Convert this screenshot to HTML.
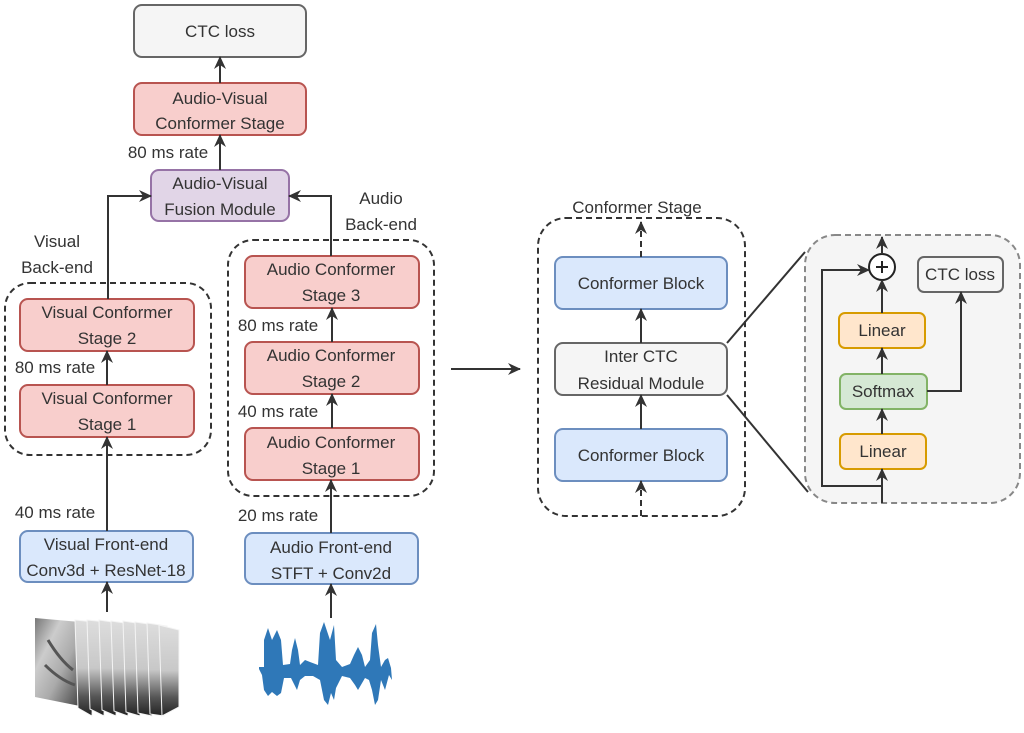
<!DOCTYPE html>
<html><head><meta charset="utf-8"><style>
html,body{margin:0;padding:0;background:#fff;}
svg{display:block;}
text{font-family:"Liberation Sans",Arial,sans-serif;font-size:17px;fill:#333;}
</style></head><body>
<svg width="1024" height="733" viewBox="0 0 1024 733" xmlns="http://www.w3.org/2000/svg">
<defs>
<marker id="a" markerWidth="14" markerHeight="14" refX="12" refY="6" orient="auto" markerUnits="userSpaceOnUse">
<path d="M0,0 L13,6 L0,12 L4,6 z" fill="#333"/>
</marker>
<linearGradient id="face" x1="0" y1="0" x2="1" y2="1">
<stop offset="0" stop-color="#777"/><stop offset="0.3" stop-color="#ccc"/><stop offset="0.6" stop-color="#aaa"/><stop offset="1" stop-color="#444"/>
</linearGradient>
<linearGradient id="fr" x1="0" y1="0" x2="0" y2="1">
<stop offset="0" stop-color="#ddd"/><stop offset="0.5" stop-color="#c8c8c8"/><stop offset="0.8" stop-color="#555"/><stop offset="1" stop-color="#222"/>
</linearGradient>
</defs>
<g stroke="#333" stroke-width="2" fill="none">
<rect x="5" y="283" width="206" height="172" rx="25" stroke-dasharray="6,4"/>
<rect x="228" y="240" width="206" height="256" rx="25" stroke-dasharray="6,4"/>
<rect x="538" y="218" width="207" height="298" rx="28" stroke-dasharray="6,4"/>
<rect x="805" y="235" width="215" height="268" rx="30" stroke="#888" fill="#f5f5f5" stroke-dasharray="6,4"/>
</g>
<g stroke-width="2">
<rect x="134" y="5" width="172" height="52" rx="8" fill="#f5f5f5" stroke="#666"/>
<rect x="134" y="83" width="172" height="52" rx="8" fill="#f8cecc" stroke="#b85450"/>
<rect x="151" y="170" width="138" height="51" rx="8" fill="#e1d5e7" stroke="#9673a6"/>
<rect x="20" y="299" width="174" height="52" rx="8" fill="#f8cecc" stroke="#b85450"/>
<rect x="20" y="385" width="174" height="52" rx="8" fill="#f8cecc" stroke="#b85450"/>
<rect x="20" y="531" width="173" height="51" rx="8" fill="#dae8fc" stroke="#6c8ebf"/>
<rect x="245" y="256" width="174" height="52" rx="8" fill="#f8cecc" stroke="#b85450"/>
<rect x="245" y="342" width="174" height="52" rx="8" fill="#f8cecc" stroke="#b85450"/>
<rect x="245" y="428" width="174" height="52" rx="8" fill="#f8cecc" stroke="#b85450"/>
<rect x="245" y="533" width="173" height="51" rx="8" fill="#dae8fc" stroke="#6c8ebf"/>
<rect x="555" y="257" width="172" height="52" rx="8" fill="#dae8fc" stroke="#6c8ebf"/>
<rect x="555" y="343" width="172" height="52" rx="8" fill="#f5f5f5" stroke="#666"/>
<rect x="555" y="429" width="172" height="52" rx="8" fill="#dae8fc" stroke="#6c8ebf"/>
<rect x="918" y="257" width="85" height="35" rx="6" fill="#f5f5f5" stroke="#666"/>
<rect x="839" y="313" width="86" height="35" rx="6" fill="#ffe6cc" stroke="#d79b00"/>
<rect x="840" y="374" width="87" height="35" rx="6" fill="#d5e8d4" stroke="#82b366"/>
<rect x="840" y="434" width="86" height="35" rx="6" fill="#ffe6cc" stroke="#d79b00"/>
<circle cx="882" cy="267" r="13" fill="#fff" stroke="#222"/>
</g>
<g stroke="#333" stroke-width="2" fill="none" marker-end="url(#a)">
<line x1="220" y1="83" x2="220" y2="57"/>
<line x1="220" y1="170" x2="220" y2="135"/>
<polyline points="108,299 108,196 151,196"/>
<polyline points="331,256 331,196 289,196"/>
<line x1="107" y1="385" x2="107" y2="351"/>
<line x1="107" y1="531" x2="107" y2="437"/>
<line x1="107" y1="612" x2="107" y2="582"/>
<line x1="332" y1="342" x2="332" y2="308"/>
<line x1="332" y1="428" x2="332" y2="394"/>
<line x1="331" y1="533" x2="331" y2="480"/>
<line x1="331" y1="618" x2="331" y2="584"/>
<line x1="451" y1="369" x2="520" y2="369"/>
<line x1="641" y1="343" x2="641" y2="309"/>
<line x1="641" y1="429" x2="641" y2="395"/>
<line x1="641" y1="257" x2="641" y2="222" stroke-dasharray="6,4"/>
<line x1="641" y1="516" x2="641" y2="481" stroke-dasharray="6,4"/>
<line x1="882" y1="503" x2="882" y2="469"/>
<line x1="882" y1="434" x2="882" y2="409"/>
<line x1="882" y1="374" x2="882" y2="348"/>
<line x1="882" y1="313" x2="882" y2="280"/>
<line x1="882" y1="254" x2="882" y2="237"/>
<polyline points="882,486 822,486 822,270 869,270"/>
<polyline points="927,391 961,391 961,292"/>
</g>
<g stroke="#333" stroke-width="2">
<line x1="727" y1="343" x2="805" y2="252"/>
<line x1="727" y1="395" x2="808" y2="492"/>
<line x1="876" y1="267" x2="888" y2="267" stroke="#222"/>
<line x1="882" y1="261" x2="882" y2="273" stroke="#222"/>
</g>
<!-- face stack -->
<g>
<polygon points="35,618 80,622 80,706 35,697" fill="url(#face)"/>
<path d="M48,640 q12,20 25,30 M45,665 q15,15 30,20" stroke="#555" stroke-width="3" fill="none"/>
<g fill="url(#fr)" stroke="#f4f4f4" stroke-width="1">
<polygon points="75,620 95,622 92,716 78,708"/>
<polygon points="87,620 107,622 104,716 90,709"/>
<polygon points="99,620 119,623 116,716 102,710"/>
<polygon points="111,621 131,624 128,716 114,711"/>
<polygon points="123,621 143,624 140,716 126,712"/>
<polygon points="135,622 155,625 152,716 138,713"/>
<polygon points="147,623 167,626 164,716 150,714"/>
<polygon points="159,625 179,630 179,707 162,716"/>
</g>
</g>
<!-- waveform -->
<path fill="#2f78b8" d="M259,667 L264,667 L264,640 L268,628 L272,640 L277,630 L281,640 L283,665 L290,664 L292,650 L295,638 L298,650 L300,665 L305,660 L310,662 L318,665 L320,633 L324,622 L330,640 L334,625 L336,660 L342,667 L350,664 L354,655 L358,647 L362,655 L365,667 L370,660 L372,633 L376,624 L378,645 L381,667 L385,660 L388,658 L391,668 L392,680 L389,675 L385,690 L381,680 L378,700 L375,705 L372,690 L369,680 L365,678 L358,690 L355,685 L350,678 L342,676 L336,688 L334,700 L331,693 L328,705 L324,700 L320,680 L313,676 L305,676 L300,680 L297,690 L294,684 L291,678 L284,678 L281,693 L277,696 L272,692 L268,696 L264,690 L262,675 L259,669 Z"/>
<g text-anchor="middle">
<text x="220" y="37">CTC loss</text>
<text x="220" y="104">Audio-Visual</text>
<text x="220" y="129">Conformer Stage</text>
<text x="168" y="158">80 ms rate</text>
<text x="220" y="189">Audio-Visual</text>
<text x="220" y="215">Fusion Module</text>
<text x="57" y="247">Visual</text>
<text x="57" y="273">Back-end</text>
<text x="381" y="204">Audio</text>
<text x="381" y="230">Back-end</text>
<text x="107" y="318">Visual Conformer</text>
<text x="107" y="344">Stage 2</text>
<text x="55" y="373">80 ms rate</text>
<text x="107" y="404">Visual Conformer</text>
<text x="107" y="430">Stage 1</text>
<text x="55" y="518">40 ms rate</text>
<text x="106" y="550">Visual Front-end</text>
<text x="106" y="576">Conv3d + ResNet-18</text>
<text x="331" y="275">Audio Conformer</text>
<text x="331" y="301">Stage 3</text>
<text x="278" y="331">80 ms rate</text>
<text x="331" y="361">Audio Conformer</text>
<text x="331" y="387">Stage 2</text>
<text x="278" y="417">40 ms rate</text>
<text x="331" y="448">Audio Conformer</text>
<text x="331" y="474">Stage 1</text>
<text x="278" y="521">20 ms rate</text>
<text x="331" y="553">Audio Front-end</text>
<text x="331" y="579">STFT + Conv2d</text>
<text x="637" y="213">Conformer Stage</text>
<text x="641" y="289">Conformer Block</text>
<text x="641" y="362">Inter CTC</text>
<text x="641" y="389">Residual Module</text>
<text x="641" y="461">Conformer Block</text>
<text x="960" y="280">CTC loss</text>
<text x="882" y="336">Linear</text>
<text x="883" y="397">Softmax</text>
<text x="883" y="457">Linear</text>
</g>
</svg>
</body></html>
